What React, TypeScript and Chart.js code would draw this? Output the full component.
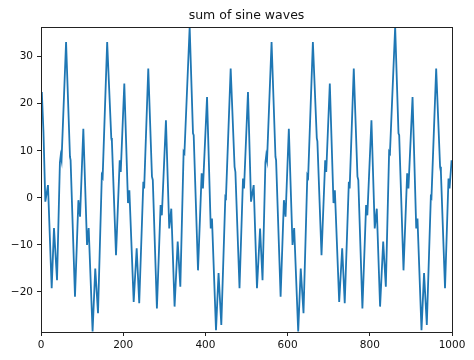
import React, { useEffect, useRef } from "react";
import { Chart, registerables } from "chart.js";

Chart.register(...registerables);

const title = "sum of sine waves";

// x positions of line vertices
const xValues = [
  0, 2, 6, 10.5, 17, 26, 31.6, 39, 46, 48, 50, 61, 70.5, 72, 82.7, 91, 95, 103, 112, 116,
  125.5, 132, 138.7, 148, 150, 161, 171, 172.5, 182.5, 191.5, 194, 202.7, 211.7, 215,
  225.5, 232.8, 239, 249, 251, 261, 270, 272, 282, 291, 294, 304, 312, 317, 325, 332.6,
  339, 347, 349, 361.7, 369.8, 371.5, 382, 390.9, 394, 404, 413, 416, 425.8, 432, 438.7,
  448.5, 450, 461.5, 471, 473, 483, 491.5, 494,
  503.6, 506, 511, 517.5, 525.5, 533, 539, 546, 548, 550, 561, 570.5, 572, 583, 591, 595,
  603, 612, 616, 625.8, 632, 638.7, 648, 650, 661.5, 671, 672.5, 682.5, 691.5, 694, 702.7,
  711.7, 715, 725.5, 732.8, 739, 749, 751, 761, 770, 772, 782, 791, 794, 804, 812, 817,
  825, 832.6, 839, 847, 849, 861.7, 869.8, 871.5, 882, 890.9, 894, 904, 913, 916, 925.8,
  932, 938.7, 948.5, 950, 961.5, 971, 973, 983, 991.5, 994, 999,
];

// y values of line vertices
const yValues = [
  22, 22.5, 14, -0.8, 2.7, -19.2, -6.4, -17.5, 7.5, 9, 8, 33.1, 8.7, 8, -21, -0.5, -4, 14.7, -10, -6.4,
  -28.4, -15, -24.5, 4.8, 4.4, 33.1, 12.7, 12, -12.2, 8, 5.5, 24.3, -1.1, 1.6,
  -22.1, -10.7, -22.4, 3.4, 2, 27.5, 4.5, 3.8, -23.5, -1.5, -3.7, 16.5, -6.5, -2.3, -23.1, -9.3,
  -18.9, 9.8, 9.5, 36.3, 13.7, 13.3, -15.4, 5.2, 2, 21.4, -6.5, -4.4, -28.1, -16, -27,
  0.2, 0, 27.5, 6.6, 5.5, -19.2, 4.1, 2,
  22.5, 15, -0.8, 2.7, -19.2, -6.5, -17.5, 7.5, 9, 8, 33.1, 8.7, 8, -21, -0.5, -4,
  14.7, -10, -6.4, -28.4, -15, -24.5, 4.8, 4.4, 33.1, 12.7, 12, -12.2, 8, 5.5, 24.3,
  -1.1, 1.6, -22.1, -10.7, -22.4, 3.4, 2, 27.5, 4.5, 3.8, -23.5, -1.5, -3.7, 16.5, -6.5, -2.3,
  -23.1, -9.3, -18.9, 9.8, 9.5, 36.3, 13.7, 13.3, -15.4, 5.2, 2, 21.4, -6.5, -4.4, -28.1,
  -16, -27, 0.2, 0, 27.5, 6.6, 5.5, -19.2, 4.1, 2, 8,
];

const xTicks = [0, 200, 400, 600, 800, 1000];
const yTicks = [-20, -10, 0, 10, 20, 30];

const frame = {
  id: "frame",
  afterDraw(chart: any) {
    const { ctx, chartArea: a } = chart;
    ctx.save();
    ctx.strokeStyle = "#222";
    ctx.lineWidth = 1;
    ctx.strokeRect(Math.round(a.left) + 0.5, Math.round(a.top) + 0.5, Math.round(a.right - a.left), Math.round(a.bottom - a.top));
    ctx.restore();
  },
};

const fmt = (v: any) => String(v).replace("-", "\u2212");

export default function App() {
  const ref = useRef<HTMLCanvasElement | null>(null);
  useEffect(() => {
    if (!ref.current) return;
    const data = xValues.map((x, i) => ({ x, y: yValues[i] }));
    const font = { family: "'DejaVu Sans', sans-serif", size: 10.5 };
    const chart = new Chart(ref.current, {
      type: "line",
      data: {
        datasets: [
          {
            data,
            borderColor: "#1f77b4",
            borderWidth: 1.8,
            pointRadius: 0,
            tension: 0,
            fill: false,
          },
        ],
      },
      options: {
        animation: false,
        responsive: false,
        events: [],
        layout: { padding: { left: 0, right: 22, top: 0, bottom: 0 } },
        plugins: {
          legend: { display: false },
          tooltip: { enabled: false },
          title: {
            display: true,
            text: title,
            fullSize: false,
            color: "#111",
            font: { family: "'DejaVu Sans', sans-serif", size: 12.5, weight: "normal" as any, lineHeight: 1.2 },
            padding: { top: 8, bottom: 4 },
          },
        },
        scales: {
          x: {
            type: "linear",
            min: 0,
            max: 1000,
            afterFit: (s: any) => { s.height = 28; },
            afterBuildTicks: (s: any) => { s.ticks = xTicks.map((v) => ({ value: v })); },
            ticks: { color: "#111", font, padding: 3, maxRotation: 0, autoSkip: false, callback: (v: any) => fmt(v) },
            grid: { display: true, drawOnChartArea: false, drawTicks: true, tickLength: 4, color: "#222" },
            border: { display: false },
          },
          y: {
            type: "linear",
            min: -28.5,
            max: 36.3,
            afterFit: (s: any) => { s.width = 41; },
            afterBuildTicks: (s: any) => { s.ticks = yTicks.map((v) => ({ value: v })); },
            ticks: { color: "#111", font, padding: 4, autoSkip: false, callback: (v: any) => fmt(v) },
            grid: { display: true, drawOnChartArea: false, drawTicks: true, tickLength: 4, color: "#222" },
            border: { display: false },
          },
        },
      },
      plugins: [frame],
    });
    return () => chart.destroy();
  }, []);
  return (
    <div style={{ position: "fixed", left: 0, top: 0, width: 474, height: 360, background: "#fff" }}>
      <canvas ref={ref} width={474} height={360} style={{ width: 474, height: 360 }} />
    </div>
  );
}
